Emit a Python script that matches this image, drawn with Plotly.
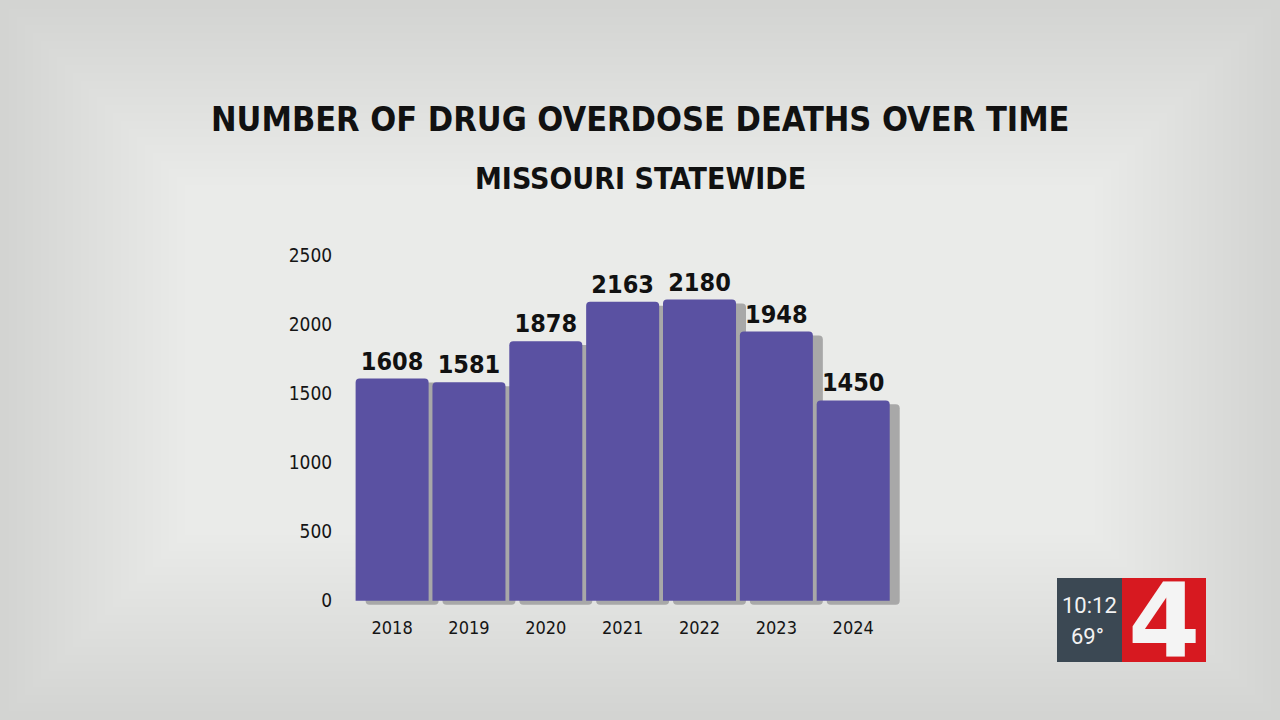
import plotly.graph_objects as go

years = ["2018", "2019", "2020", "2021", "2022", "2023", "2024"]
deaths = [1608, 1581, 1878, 2163, 2180, 1948, 1450]
y_ticks = [0, 500, 1000, 1500, 2000, 2500]

title = "NUMBER OF DRUG OVERDOSE DEATHS OVER TIME"
subtitle = "MISSOURI STATEWIDE"

COND = "DejaVu Sans Condensed"
BAR = "#5a51a2"
SHADOW = "#a8a8a8"

L, R, T, B = 346, 907, 247, 607
W, H = 1280, 720

def px(x):
    return (x - L) / (R - L)

def py(y):
    return (B - y) / (B - T)

def cfont(size, weight=400, color="#111111"):
    return dict(family=COND, size=size, color=color, weight=weight)

fig = go.Figure()
fig.add_trace(go.Bar(
    x=years, y=deaths, base=-28, width=0.95, offset=-0.475 + 0.13,
    marker=dict(color=SHADOW, line=dict(width=0)), hoverinfo="skip",
    showlegend=False,
))
fig.add_trace(go.Bar(
    x=years, y=deaths, width=0.95,
    marker=dict(color=BAR, line=dict(width=0)),
    text=[str(v) for v in deaths], textposition="outside",
    textfont=cfont(25, 700),
    cliponaxis=False, showlegend=False,
))

# soft vignette: opaque frames stepping one grey level at a time toward the edge
vignette = []
for i in range(23):
    d = 185 - 8 * i
    g = 233 - i
    vignette.append(dict(type="rect", xref="paper", yref="paper",
                         x0=px(0), x1=px(W), y0=py(H), y1=py(0),
                         fillcolor="rgba(0,0,0,0)", layer="below",
                         line=dict(width=2 * d, color=f"rgb({g},{g + 1},{g - 1})")))

fig.update_layout(
    width=W, height=H,
    margin=dict(l=L, r=W - R, t=T, b=H - B, autoexpand=False),
    paper_bgcolor="#eaebe9", plot_bgcolor="rgba(0,0,0,0)",
    barmode="overlay", barcornerradius=4,
    xaxis=dict(type="category", range=[-0.6, 6.7], showgrid=False, zeroline=False,
               showline=False, ticks="outside", ticklen=4, tickcolor="rgba(0,0,0,0)",
               tickfont=cfont(18, 400, "#151515")),
    yaxis=dict(range=[-45, 2560], tickvals=y_ticks, showgrid=False, zeroline=False,
               showline=False, ticks="outside", ticklen=9, tickcolor="rgba(0,0,0,0)",
               tickfont=cfont(19, 400, "#151515")),
    annotations=[
        dict(text=title, x=px(640), y=py(119), xref="paper", yref="paper",
             showarrow=False, xanchor="center", yanchor="middle",
             font=cfont(34, 700)),
        dict(text=subtitle, x=px(640), y=py(178), xref="paper", yref="paper",
             showarrow=False, xanchor="center", yanchor="middle",
             font=cfont(30, 600)),
        dict(text="10:12", x=px(1089), y=py(605), xref="paper", yref="paper",
             showarrow=False, xanchor="center", yanchor="middle",
             font=dict(family="Roboto, sans-serif", size=22, color="#f2f2f2")),
        dict(text="69°", x=px(1087), y=py(636), xref="paper", yref="paper",
             showarrow=False, xanchor="center", yanchor="middle",
             font=dict(family="Roboto, sans-serif", size=22, color="#f2f2f2")),
        dict(text="4", x=px(1164), y=py(621), xref="paper", yref="paper",
             showarrow=False, xanchor="center", yanchor="middle",
             font=dict(family="DejaVu Sans, sans-serif", size=104,
                       color="#f4f4f4", weight=900)),
    ],
    shapes=vignette + [
        dict(type="rect", xref="paper", yref="paper", x0=px(1057), x1=px(1122),
             y0=py(662), y1=py(578), fillcolor="#3b4853", line=dict(width=0), layer="below"),
        dict(type="rect", xref="paper", yref="paper", x0=px(1122), x1=px(1206),
             y0=py(662), y1=py(578), fillcolor="#d71920", line=dict(width=0), layer="below"),
    ],
)

fig.write_html("out.html")
